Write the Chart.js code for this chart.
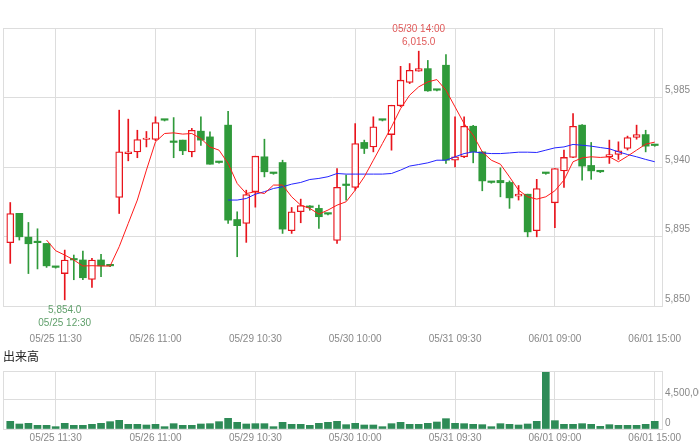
<!DOCTYPE html>
<html>
<head>
<meta charset="utf-8">
<script src="https://cdn.jsdelivr.net/npm/chart.js@4"></script>
<style>
body { margin: 0; background: #fff; width: 699px; height: 445px; overflow: hidden; position: relative; font-family: "Liberation Sans", Arial, sans-serif; }
#priceBox { position: absolute; left: 0; top: 0; width: 699px; height: 348px; }
#volBox { position: absolute; left: 0; top: 345px; width: 699px; height: 100px; }
#volTitle { position: absolute; left: 3px; top: 347px; font-size: 12px; color: #222; font-family: "Noto Sans CJK JP", sans-serif; }
</style>
</head>
<body>
<div id="priceBox"><canvas id="price"></canvas></div>
<div id="volTitle">出来高</div>
<div id="volBox"><canvas id="vol"></canvas></div>
<script>
// 72 bars, open / high / low / close
var opens = [5891,5910,5894.6,5891,5890.5,5875,5871,5879.8,5879.8,5867.2,5879.8,5876,5920.3,5948.7,5949.8,5957.8,5957.8,5970.3,5955.9,5957.4,5949.8,5963.2,5959.5,5942.9,5967.1,5906,5903.5,5924,5946.6,5935.8,5942.9,5898.7,5911,5913.8,5913.2,5909.5,5892.5,5928,
  5926.8,5955.9,5953,5970.3,5961,5979.6,5994.7,6002,6003.7,5989.7,6005.9,5944.4,5946.6,5966.4,5949.8,5930,5931.3,5930,5921.1,5922.4,5898.7,5935.8,5916.8,5937.5,5946.2,5967.1,5941,5936.9,5946.6,5948.1,5952,5959.1,5961,5953.9];
var highs = [5917,5910,5904.1,5900,5890.5,5875.5,5886.2,5883,5885.6,5880.8,5883.4,5876.5,5976.8,5971,5963.8,5963,5972.5,5970.8,5972,5957.4,5965,5972.5,5962.8,5943.4,5976.1,5911,5925,5947,5958,5936.3,5944.4,5913.8,5919.2,5915,5915.3,5910,5939,5934.7,
  5968.1,5957.4,5972.5,5970.8,5980,6005.2,6007,6015,6009,5990.2,6012.8,5972.5,5972.5,5967,5950,5930.5,5939.5,5931,5928,5922.4,5932,5936.3,5939,5950.9,5974.6,5967.5,5955.9,5937.4,5957.4,5956.3,5960,5967.1,5963.8,5954.4];
var lows = [5877.6,5892.7,5871,5874,5875,5874.5,5854,5867,5867,5862,5869,5875.5,5909.9,5944,5946,5953,5957,5969.8,5946,5948,5946.6,5954,5941.8,5942.4,5903.5,5881.9,5891.2,5914,5933.6,5935.3,5897,5897,5903.9,5912,5900.2,5909,5890.5,5918.6,
  5925,5948.7,5949.8,5969.8,5950.9,5979,5994,6002,5989,5989.2,5942.3,5940,5946,5942.7,5924.6,5929.5,5920.7,5913.2,5918.6,5894.8,5894.8,5935.3,5900.7,5926.8,5946,5931.5,5932,5936.4,5942.3,5944.9,5951,5958,5949.8,5953.4];
var closes = [5909.9,5894.8,5890.3,5891,5876,5875,5879.8,5879.8,5868.3,5879.8,5876,5876,5949.8,5949.8,5957.8,5958,5968.8,5970.3,5955.9,5950.5,5963.8,5957.4,5941.8,5942.9,5905.6,5902,5922.2,5947,5936.9,5935.8,5899.8,5911,5915.1,5913.8,5907.8,5909.5,5926.8,5928,
  5955.2,5952,5966,5970.3,5980,5996.2,6002.6,6003.7,5989.3,5989.7,5944.4,5946.6,5966.4,5949.8,5931,5930,5929.8,5920,5922.4,5898,5926.1,5935.8,5939,5946.2,5966.4,5940.6,5937.5,5936.9,5948.1,5950.5,5959.1,5961,5953.5,5953.9];
// short average (red) from bar 4, long average (blue) from bar 24
var maShortStart = 4;
var maShort = [5892.7,5885.8,5883,5879.8,5875.9,5876.1,5875.9,5875.9,5888.4,5903.5,5918.6,5938,5956.3,5961.7,5962.1,5961.3,5961.7,5958.4,5953,5950.9,5942.3,5929.3,5922.8,5924,5922.8,5928.3,5928.3,5920.7,5915.3,5913.2,5909.5,5912.1,5915.3,5917.5,
  5925,5933.6,5944.4,5955.2,5966,5977.8,5986.5,5991.9,5995.1,5996.6,5989.7,5978.9,5968.1,5960.6,5949.8,5944.4,5941.8,5933.6,5925,5920.7,5919.2,5920.7,5924.6,5931.5,5943.4,5945.9,5946.6,5946.2,5946.6,5943.4,5947,5950.9,5954.8,5956.1];
var maLongStart = 24;
var maLong = [5918.6,5918.6,5919.6,5922.4,5924,5926.1,5927.2,5928.9,5930,5931.9,5932.6,5933.7,5935.8,5935.4,
  5935.4,5935.4,5935.4,5935.4,5935.8,5938,5940.6,5941.6,5942.7,5944.4,5944.4,5946.6,5948.7,5949.8,5949.1,5948.7,5948.7,5949.1,5949.6,5949.6,5949.4,5950.9,5952.4,5953,5954.6,5954.1,5953.5,5952.6,5951.8,5949.8,5948.1,5946.6,5944.9,5943.4];
var volumes = [1150000,750000,850000,550000,550000,350000,850000,550000,550000,700000,850000,1100000,1300000,700000,700000,600000,700000,350000,800000,550000,550000,750000,800000,1100000,1600000,1000000,750000,800000,800000,350000,1000000,700000,700000,550000,850000,1000000,1150000,650000,
  850000,600000,600000,350000,800000,1000000,700000,700000,850000,1050000,1550000,850000,800000,700000,650000,350000,800000,700000,600000,750000,1150000,8500000,1250000,700000,700000,800000,700000,400000,650000,550000,550000,550000,700000,1150000];
var tickIndex = [5, 16, 27, 38, 49, 60, 71];
var tickLabels = ['05/25 11:30', '05/26 11:00', '05/29 10:30', '05/30 10:00', '05/31 09:30', '06/01 09:00', '06/01 15:00'];
var priceTicks = [5850, 5895, 5940, 5985];
var volTicks = [0, 4500000];
var maxLabel = ['05/30 14:00', '6,015.0'];
var maxIdx = 45;
var minLabel = ['5,854.0', '05/25 12:30'];
var minIdx = 6;

var RED = '#e8141c';
var GREEN = '#2f9a3a';
var GRID = '#dddddd';
var fontTick = { family: '"Liberation Sans", Arial, sans-serif', size: 10 };

function pts(arr, start) {
    var out = [];
    for (let i = 0; i < arr.length; i++) out.push({ x: i + start, y: arr[i] });
    return out;
}
var wicks = [], bodies = [];
for (let i = 0; i < opens.length; i++) {
    wicks.push({ x: i, y: [lows[i], highs[i]] });
    bodies.push({ x: i, y: [opens[i], closes[i]] });
}
function isUp(i) { return closes[i] > opens[i]; }

const boxPlugin = {
    id: 'box',
    beforeDatasetsDraw(chart) {
        const a = chart.chartArea, c = chart.ctx;
        c.save();
        c.strokeStyle = GRID;
        c.lineWidth = 1;
        c.strokeRect(a.left + 0.5, a.top + 0.5, a.right - a.left, a.bottom - a.top);
        c.restore();
    }
};

const notePlugin = {
    id: 'notes',
    afterDatasetsDraw(chart) {
        const c = chart.ctx, xs = chart.scales.x, ys = chart.scales.y;
        c.save();
        c.font = '10px "Liberation Sans", Arial, sans-serif';
        c.textAlign = 'center';
        c.textBaseline = 'middle';
        var hx = xs.getPixelForValue(maxIdx), hy = ys.getPixelForValue(highs[maxIdx]);
        c.fillStyle = '#e05a5a';
        c.fillText(maxLabel[0], hx, hy - 22);
        c.fillText(maxLabel[1], hx, hy - 9);
        var lx = xs.getPixelForValue(minIdx), ly = ys.getPixelForValue(lows[minIdx]);
        c.fillStyle = '#5f9f6a';
        c.fillText(minLabel[0], lx, ly + 10);
        c.fillText(minLabel[1], lx, ly + 23);
        c.restore();
    }
};

function xAxis(pad, height) {
    return {
        type: 'linear', min: -0.8, max: 71.8, offset: false,
        afterBuildTicks: (s) => { s.ticks = tickIndex.map(v => ({ value: v })); },
        afterFit: (s) => { s.height = height; s.paddingLeft = 0; s.paddingRight = 0; },
        ticks: { callback: (v) => tickLabels[tickIndex.indexOf(v)], color: '#888', font: fontTick, padding: pad, maxRotation: 0, autoSkip: false },
        grid: { color: GRID, drawTicks: false, offset: false },
        border: { display: false }
    };
}

function yAxis(mn, mx, list, off) {
    return {
        position: 'right', min: mn, max: mx,
        afterBuildTicks: (s) => { s.ticks = list.map(v => ({ value: v })); },
        afterFit: (s) => { s.width = 37; s.paddingTop = 0; s.paddingBottom = 0; },
        ticks: { callback: (v) => v.toLocaleString('en-US'), color: '#888', font: fontTick, padding: 3, labelOffset: off },
        grid: { color: GRID, drawTicks: false },
        border: { display: false }
    };
}

new Chart(document.getElementById('price'), {
    type: 'bar',
    data: {
        datasets: [
            { type: 'line', data: pts(maShort, maShortStart), borderColor: '#ff1a1a', borderWidth: 1, pointRadius: 0, order: 0 },
            { type: 'line', data: pts(maLong, maLongStart), borderColor: '#2424ff', borderWidth: 1, pointRadius: 0, order: 0 },
            { data: bodies, grouped: false, barThickness: 7, minBarLength: 1.5, borderSkipped: false, order: 1,
              backgroundColor: (c) => isUp(c.dataIndex) ? '#ffffff' : GREEN,
              borderColor: (c) => isUp(c.dataIndex) ? RED : GREEN,
              borderWidth: (c) => isUp(c.dataIndex) ? 1.3 : 0 },
            { data: wicks, grouped: false, barThickness: 1, borderSkipped: false, order: 2,
              backgroundColor: (c) => isUp(c.dataIndex) ? RED : GREEN }
        ]
    },
    options: {
        responsive: true, maintainAspectRatio: false, animation: false,
        layout: { padding: { top: 28, left: 3, right: 0, bottom: 0 } },
        plugins: { legend: { display: false }, tooltip: { enabled: false } },
        scales: { x: xAxis(27, 42), y: yAxis(5850, 6030, priceTicks, -7) }
    },
    plugins: [boxPlugin, notePlugin]
});

new Chart(document.getElementById('vol'), {
    type: 'bar',
    data: {
        datasets: [{ data: pts(volumes, 0), backgroundColor: '#2e8b57', barThickness: 7 }]
    },
    options: {
        responsive: true, maintainAspectRatio: false, animation: false,
        layout: { padding: { top: 26, left: 3, right: 0, bottom: 0 } },
        plugins: { legend: { display: false }, tooltip: { enabled: false } },
        scales: { x: xAxis(3, 16), y: yAxis(0, 8700000, volTicks, -6) }
    },
    plugins: [boxPlugin]
});
</script>
</body>
</html>
